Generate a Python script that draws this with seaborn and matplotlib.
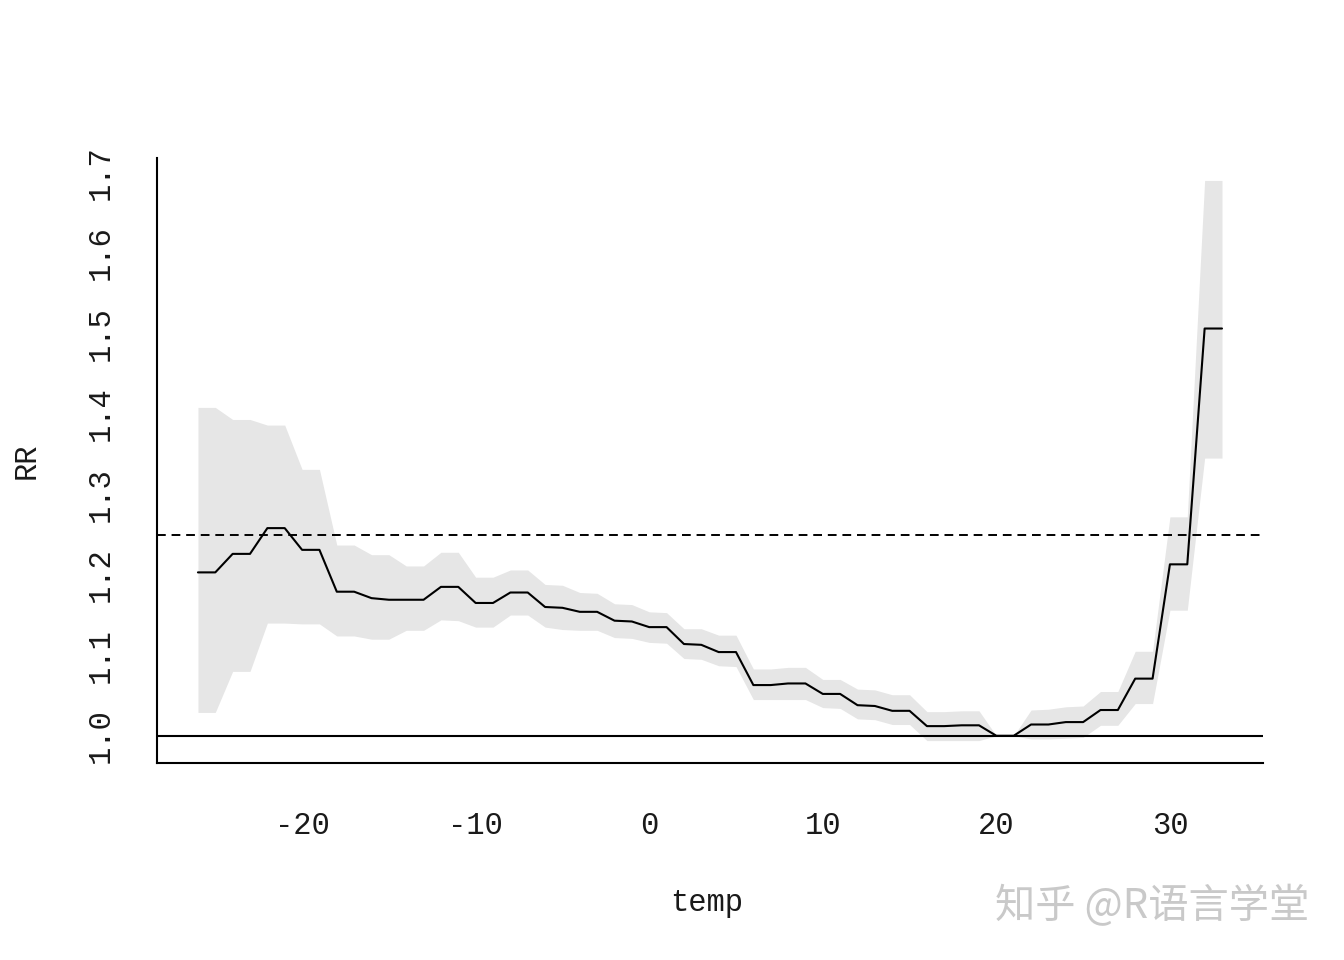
import numpy as np
import pandas as pd
import seaborn as sns
import matplotlib
matplotlib.use("Agg")
import matplotlib.pyplot as plt

# temperature grid and relative risk
temp = list(range(-26, 34))
rr = [1.203, 1.203, 1.226, 1.226, 1.258, 1.258, 1.231, 1.231, 1.179, 1.179,
      1.171, 1.169, 1.169, 1.169, 1.185, 1.185, 1.165, 1.165, 1.178, 1.178,
      1.160, 1.159, 1.154, 1.154, 1.143, 1.142, 1.135, 1.135, 1.114, 1.113,
      1.104, 1.104, 1.063, 1.063, 1.065, 1.065, 1.052, 1.052, 1.038, 1.037,
      1.031, 1.031, 1.012, 1.012, 1.013, 1.013, 1.000, 1.000, 1.014, 1.014,
      1.017, 1.017, 1.032, 1.032, 1.071, 1.071, 1.213, 1.213, 1.506, 1.506]
rr_high = [1.408, 1.408, 1.393, 1.393, 1.386, 1.386, 1.331, 1.331, 1.237, 1.237,
           1.225, 1.225, 1.211, 1.211, 1.228, 1.228, 1.197, 1.197, 1.206, 1.206,
           1.188, 1.187, 1.178, 1.177, 1.164, 1.163, 1.154, 1.153, 1.133, 1.133,
           1.125, 1.125, 1.083, 1.083, 1.085, 1.085, 1.070, 1.070, 1.058, 1.057,
           1.051, 1.051, 1.030, 1.030, 1.031, 1.031, 1.000, 1.000, 1.032, 1.033,
           1.036, 1.037, 1.055, 1.055, 1.105, 1.105, 1.272, 1.272, 1.690, 1.690]
rr_low = [1.029, 1.029, 1.080, 1.080, 1.140, 1.140, 1.139, 1.139, 1.124, 1.124,
          1.120, 1.120, 1.131, 1.131, 1.144, 1.143, 1.135, 1.135, 1.150, 1.150,
          1.135, 1.132, 1.131, 1.131, 1.122, 1.121, 1.116, 1.115, 1.096, 1.095,
          1.087, 1.086, 1.045, 1.045, 1.045, 1.045, 1.035, 1.034, 1.021, 1.020,
          1.014, 1.014, 0.994, 0.994, 0.994, 0.994, 1.000, 1.000, 0.996, 0.996,
          0.997, 0.998, 1.013, 1.013, 1.040, 1.040, 1.156, 1.156, 1.345, 1.345]
x_ticks = [-20, -10, 0, 10, 20, 30]
y_ticks = [1.0, 1.1, 1.2, 1.3, 1.4, 1.5, 1.6, 1.7]
cutoff = 1.25

df = pd.DataFrame({"temp": temp, "RR": rr, "high": rr_high, "low": rr_low})

sns.set_style("white")
plt.rcParams["font.family"] = ["Liberation Mono", "DejaVu Sans Mono"]

fig = plt.figure(figsize=(13.44, 9.6), dpi=100)
ax = fig.add_axes([0.1168, 0.2052, 0.8229, 0.6302])

ax.fill_between(df["temp"], df["low"], df["high"], color="#e6e6e6", linewidth=0)
sns.lineplot(data=df, x="temp", y="RR", ax=ax, color="black", linewidth=1.5)
ax.axhline(1.0, color="black", linewidth=1.5)
ax.axhline(cutoff, color="black", linewidth=1.4, linestyle=(0, (4.5, 3)))

# R style limits (4% extension)
xr = max(temp) - min(temp)
ax.set_xlim(min(temp) - 0.04 * xr, max(temp) + 0.04 * xr)
yr = max(rr_high) - min(rr_low)
ax.set_ylim(min(rr_low) - 0.04 * yr, max(rr_high) + 0.04 * yr)

ax.set_xticks(x_ticks)
ax.set_xticklabels([str(t) for t in x_ticks])
ax.set_yticks(y_ticks)
ax.set_yticklabels([f"{t:.1f}" for t in y_ticks], rotation=90, va="center")

for s in ["top", "right"]:
    ax.spines[s].set_visible(False)
for s in ["left", "bottom"]:
    ax.spines[s].set_linewidth(1.5)
    ax.spines[s].set_color("black")
ax.tick_params(axis="both", direction="out", length=14.5, width=1.5,
               colors="black", labelsize=22, labelcolor="#1a1a1a")
ax.tick_params(axis="x", pad=20)
ax.tick_params(axis="y", pad=15)

ax.set_xlabel("temp", fontsize=22, color="#1a1a1a")
ax.set_ylabel("RR", fontsize=22, color="#1a1a1a")
ax.xaxis.set_label_coords(0.497, -0.231)
ax.xaxis.label.set_va("center")
ax.yaxis.set_label_coords(-0.1175, 0.50)
ax.yaxis.label.set_va("center")

fig.text(0.9745, 0.056, "知乎 @R语言学堂", fontsize=29, color="#c9c9c9",
         ha="right", va="center", family=["Noto Sans CJK SC", "DejaVu Sans"])

fig.savefig("out.png", dpi=100, facecolor="white")
